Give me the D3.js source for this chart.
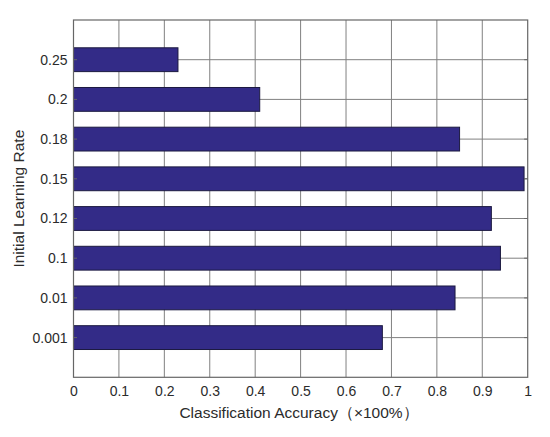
<!DOCTYPE html>
<html><head><meta charset="utf-8">
<script src="https://cdn.jsdelivr.net/npm/d3@7"></script>
<style>body{margin:0;background:#fff}svg{display:block}text{font-family:"Liberation Sans",Arial,sans-serif;fill:#2b2b2b}</style>
</head><body><svg id="c" width="550" height="437"></svg>
<script>
const categories = ["0.001","0.01","0.1","0.12","0.15","0.18","0.2","0.25"];
const accuracy = [0.68,0.84,0.94,0.92,0.992,0.85,0.41,0.23];
const xTicks = [0,0.1,0.2,0.3,0.4,0.5,0.6,0.7,0.8,0.9,1];
const xTickLabels = ["0","0.1","0.2","0.3","0.4","0.5","0.6","0.7","0.8","0.9","1"];
const xTitle = "Classification Accuracy（×100%）";
const yTitle = "Initial Learning Rate";

const svg = d3.select("#c");
const L=73.5, R=527.7, T=20, B=377.3;
const x = d3.scaleLinear().domain([0,1]).range([L,R]);
const y = d3.scaleLinear().domain([0,categories.length+1]).range([B,T]);
const pos = categories.map((c,i)=>i+1);

const g = svg.append("g");
g.selectAll(".vg").data(xTicks.slice(1,-1)).join("line")
 .attr("x1",d=>x(d)).attr("x2",d=>x(d)).attr("y1",T).attr("y2",B)
 .attr("stroke","#808080").attr("stroke-width",1);
g.selectAll(".hg").data(pos).join("line")
 .attr("x1",L).attr("x2",R).attr("y1",d=>y(d)).attr("y2",d=>y(d))
 .attr("stroke","#808080").attr("stroke-width",1);
const bh = y(0)-y(0.6);
g.selectAll(".bar").data(accuracy).join("rect")
 .attr("x",x(0)).attr("y",(d,i)=>y(pos[i])-bh/2)
 .attr("width",d=>x(d)-x(0)).attr("height",bh)
 .attr("fill","#332b87").attr("stroke","#1c1a40").attr("stroke-width",1);
g.append("rect").attr("x",L).attr("y",T).attr("width",R-L).attr("height",B-T)
 .attr("fill","none").attr("stroke","#666").attr("stroke-width",1.2);
g.selectAll(".tl").data(pos).join("line").attr("x1",L).attr("x2",L+3.5)
 .attr("y1",d=>y(d)).attr("y2",d=>y(d)).attr("stroke","#666");
g.selectAll(".tr").data(pos).join("line").attr("x1",R).attr("x2",R-3.5)
 .attr("y1",d=>y(d)).attr("y2",d=>y(d)).attr("stroke","#666");
const xa = d3.axisBottom(x).tickValues(xTicks).tickFormat((d,i)=>xTickLabels[i]).tickSize(0).tickPadding(9);
const xg = svg.append("g").attr("transform",`translate(0,${B})`).call(xa);
xg.attr("font-size",14).attr("font-family",null);
xg.select(".domain").remove();
xg.selectAll("text").style("font-size","14px").attr("fill","#2b2b2b");
const ya = d3.axisLeft(y).tickValues(pos).tickFormat((d,i)=>categories[i]).tickSize(0).tickPadding(6);
const yg = svg.append("g").attr("transform",`translate(${L},0)`).call(ya);
yg.attr("font-size",14).attr("font-family",null);
yg.select(".domain").remove();
yg.selectAll("text").style("font-size","14px").attr("fill","#2b2b2b");
svg.append("text").attr("x",299).attr("y",418).attr("text-anchor","middle")
 .style("font-size","15.5px").text(xTitle);
svg.append("text").attr("transform",`translate(24,${(T+B)/2}) rotate(-90)`).attr("text-anchor","middle")
 .style("font-size","15.5px").text(yTitle);
</script></body></html>
